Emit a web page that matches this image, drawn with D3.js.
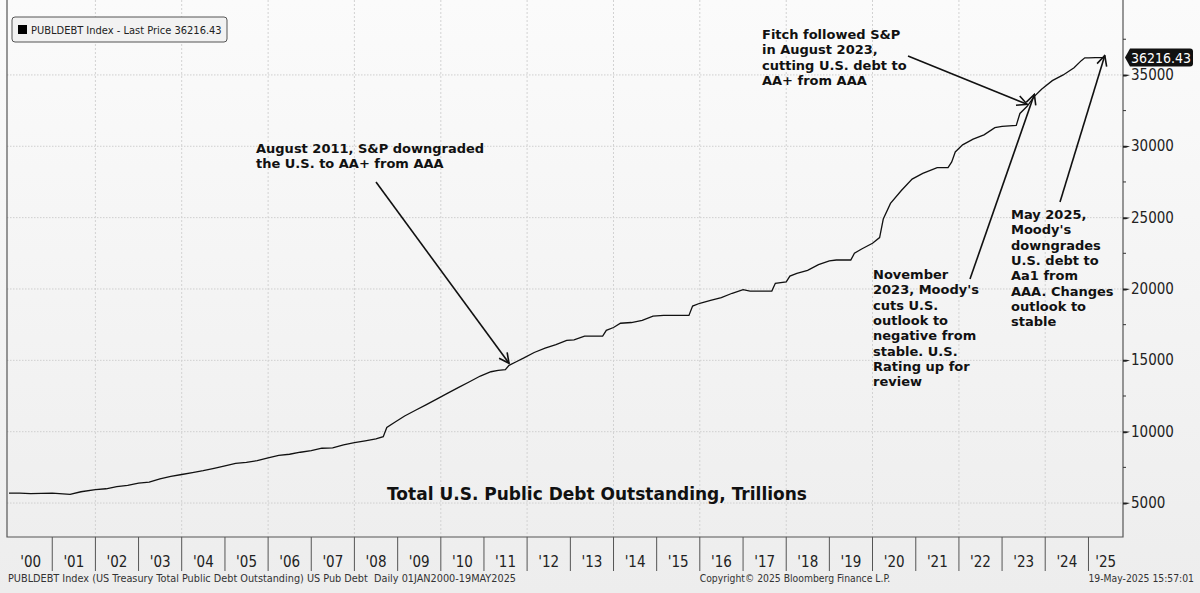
<!DOCTYPE html>
<html>
<head>
<meta charset="utf-8">
<script src="https://d3js.org/d3.v7.min.js"></script>
<style>
  body { margin: 0; background: #f1f1f1; }
</style>
</head>
<body>
<svg id="chart"></svg>
<script>
// US public debt outstanding, millions of USD
const dates = ["2000-01","2000-04","2000-07","2000-10","2001-01","2001-04","2001-06","2001-09",
  "2002-01","2002-04","2002-07","2002-10","2003-01","2003-04","2003-07","2003-10",
  "2004-01","2004-04","2004-07","2004-10","2005-01","2005-04","2005-07","2005-10",
  "2006-01","2006-04","2006-07","2006-10","2007-01","2007-04","2007-07","2007-10",
  "2008-01","2008-04","2008-07","2008-09","2008-10","2008-12","2009-03","2009-06","2009-09","2009-12",
  "2010-03","2010-06","2010-09","2010-12","2011-03","2011-05","2011-07","2011-08","2011-10","2011-12",
  "2012-03","2012-06","2012-09","2012-12","2013-02","2013-05","2013-10","2013-11",
  "2014-01","2014-03","2014-06","2014-09","2014-12","2015-03","2015-10","2015-11",
  "2016-01","2016-04","2016-07","2016-10","2017-01","2017-03","2017-09","2017-10",
  "2018-01","2018-02","2018-04","2018-07","2018-10","2019-01","2019-03","2019-07","2019-08","2019-10",
  "2020-01","2020-03","2020-04","2020-06","2020-09","2020-12","2021-03","2021-07","2021-10","2021-11","2021-12",
  "2022-02","2022-05","2022-08","2022-11","2023-01","2023-05","2023-06","2023-08","2023-10","2023-12",
  "2024-03","2024-06","2024-09","2024-11","2024-12","2025-01","2025-03","2025-05"];
const debt = [5700,5690,5660,5670,5690,5640,5610,5790,
  5940,6000,6150,6240,6400,6460,6700,6870,
  7000,7130,7270,7430,7600,7780,7850,7970,
  8170,8340,8420,8560,8680,8840,8870,9080,
  9230,9360,9500,9650,10300,10630,11100,11500,11900,12300,
  12700,13100,13500,13900,14200,14290,14340,14650,14900,15150,
  15550,15850,16100,16400,16430,16700,16700,17100,
  17300,17600,17650,17800,18100,18150,18150,18800,
  19000,19200,19400,19700,19950,19850,19850,20400,
  20500,20900,21100,21300,21700,21970,22030,22030,22500,22800,
  23200,23600,24900,26000,26900,27700,28100,28500,28500,28900,29600,
  30100,30500,30800,31300,31400,31460,32300,32800,33500,34000,
  34600,35000,35500,36000,36200,36200,36216,36216.43];
const lastPrice = "36216.43";
const yTicks = [5000,10000,15000,20000,25000,30000,35000];
const years = d3.range(2000, 2026);

const annotations = [
  { lines: ["August 2011, S&P downgraded", "the U.S. to AA+ from AAA"], x: 256, y: 153, from: [376, 182], to: "2011-08" },
  { lines: ["Fitch followed S&P", "in August 2023,", "cutting U.S. debt to", "AA+ from AAA"], x: 762, y: 39, from: [908, 56], to: "2023-08" },
  { lines: ["November", "2023, Moody's", "cuts U.S.", "outlook to", "negative from", "stable. U.S.", "Rating up for", "review"], x: 873, y: 279, from: [970, 279], to: "2023-10" },
  { lines: ["May 2025,", "Moody's", "downgrades", "U.S. debt to", "Aa1 from", "AAA. Changes", "outlook to", "stable"], x: 1011, y: 219, from: [1060, 202], to: "2025-05" }
];

const W = 1200, H = 593;
const pLeft = 7, pRight = 1123, pTop = 0, pBottom = 537;
const COND = "'DejaVu Sans Condensed', 'DejaVu Sans', sans-serif";
const BOLD = "'DejaVu Sans', sans-serif";

const svg = d3.select("#chart").attr("width", W).attr("height", H);

const defs = svg.append("defs");
const bg = defs.append("linearGradient").attr("id", "bg").attr("x1", 0).attr("y1", 0).attr("x2", 0).attr("y2", 1);
bg.append("stop").attr("offset", "0%").attr("stop-color", "#fbfbfb");
bg.append("stop").attr("offset", "100%").attr("stop-color", "#ededed");
defs.append("marker").attr("id", "arr").attr("viewBox", "0 0 12 12").attr("refX", 11).attr("refY", 6)
  .attr("markerWidth", 12).attr("markerHeight", 12).attr("markerUnits", "userSpaceOnUse").attr("orient", "auto")
  .append("path").attr("d", "M1,1 L11,6 L1,11").attr("fill", "none").attr("stroke", "#111").attr("stroke-width", 1.6);

svg.append("rect").attr("width", W).attr("height", H).attr("fill", "url(#bg)");

const parse = d3.timeParse("%Y-%m");
const data = dates.map((d, i) => ({ date: parse(d), value: debt[i] }));
// last point is 19 May 2025
data[data.length - 1].date = new Date(2025, 4, 19);

const x = d3.scaleTime().domain([new Date(2000, 0, 1), new Date(2025, 9, 20)]).range([9, pRight]);
const y = d3.scaleLinear().domain([2620, 39900]).range([pBottom, pTop + 5]);

// grid
svg.append("g").selectAll("line").data(yTicks).join("line")
  .attr("x1", pLeft).attr("x2", pRight).attr("y1", d => y(d)).attr("y2", d => y(d))
  .attr("stroke", "#cfcfcf").attr("stroke-dasharray", "1.5,1.5");
svg.append("g").selectAll("line").data(years.filter(d => d % 2 === 0 && d > 2000)).join("line")
  .attr("x1", d => x(new Date(d, 0, 1))).attr("x2", d => x(new Date(d, 0, 1)))
  .attr("y1", pTop).attr("y2", pBottom)
  .attr("stroke", "#d2d2d2").attr("stroke-dasharray", "2,2");

// frame
svg.append("path").attr("d", `M${pLeft},${pTop} V${pBottom} H${pRight} V${pTop}`)
  .attr("fill", "none").attr("stroke", "#555").attr("stroke-width", 1.2);

// bottom year bands
const xa = svg.append("g");
xa.selectAll("line").data(years.slice(1)).join("line")
  .attr("x1", d => x(new Date(d, 0, 1))).attr("x2", d => x(new Date(d, 0, 1)))
  .attr("y1", pBottom).attr("y2", 571).attr("stroke", "#555").attr("stroke-width", 1);
xa.selectAll("text").data(years).join("text")
  .attr("x", d => (Math.max(x(new Date(d, 0, 1)), pLeft) + Math.min(x(new Date(d + 1, 0, 1)), pRight)) / 2)
  .attr("y", 567).attr("text-anchor", "middle").style("font-family", COND).style("font-size", "15px").attr("fill", "#222")
  .text(d => "'" + String(d % 100).padStart(2, "0"));

// right axis
const ya = svg.append("g");
ya.selectAll("line.minor").data(d3.range(7500, 39000, 5000)).join("line").attr("class", "minor")
  .attr("x1", pRight).attr("x2", pRight + 3).attr("y1", d => y(d)).attr("y2", d => y(d))
  .attr("stroke", "#333");
ya.selectAll("path.tk").data(yTicks).join("path").attr("class", "tk")
  .attr("d", d => `M${pRight},${y(d) - 0.5} H${pRight + 3} L${pRight + 7},${y(d)} L${pRight + 3},${y(d) + 1.5} H${pRight}Z`)
  .attr("fill", "#222");
ya.selectAll("text").data(yTicks).join("text")
  .attr("x", pRight + 8).attr("y", d => y(d) + 5).style("font-family", COND).style("font-size", "15px").attr("fill", "#222")
  .text(d => d);

// line
svg.append("path").datum(data)
  .attr("d", d3.line().x(d => x(d.date)).y(d => y(d.value)))
  .attr("fill", "none").attr("stroke", "#111").attr("stroke-width", 1.3);

// last price tag
const ly = y(debt[debt.length - 1]);
svg.append("path")
  .attr("d", `M${pRight + 2},${ly} L${pRight + 7},${ly - 9} H${pRight + 67} Q${pRight + 70},${ly - 9} ${pRight + 70},${ly - 6} V${ly + 6} Q${pRight + 70},${ly + 9} ${pRight + 67},${ly + 9} H${pRight + 7}Z`)
  .attr("fill", "#111");
svg.append("text").attr("x", pRight + 8).attr("y", ly + 5).style("font-family", COND).style("font-size", "14px")
  .attr("fill", "#fff").text(lastPrice);

// legend
svg.append("rect").attr("x", 12).attr("y", 17).attr("width", 215).attr("height", 25).attr("rx", 3)
  .attr("fill", "#f2f2f2").attr("stroke", "#555");
svg.append("rect").attr("x", 18).attr("y", 25).attr("width", 9).attr("height", 9).attr("fill", "#000");
svg.append("text").attr("x", 31).attr("y", 34).style("font-family", COND).style("font-size", "11px").attr("fill", "#222")
  .text("PUBLDEBT Index - Last Price " + lastPrice);

// annotations
const dateOf = s => s === "2025-05" ? new Date(2025, 4, 19) : parse(s);
const valOf = s => debt[dates.indexOf(s)];
annotations.forEach(a => {
  const t = svg.append("text").style("font-family", BOLD).style("font-weight", "bold")
    .style("font-size", "13px").attr("fill", "#111");
  a.lines.forEach((l, i) => t.append("tspan").attr("x", a.x).attr("y", a.y + i * 15.3).text(l));
  svg.append("line").attr("x1", a.from[0]).attr("y1", a.from[1])
    .attr("x2", x(dateOf(a.to))).attr("y2", y(valOf(a.to)) - 2)
    .attr("stroke", "#111").attr("stroke-width", 1.6).attr("marker-end", "url(#arr)");
});

// title
svg.append("text").attr("x", 597).attr("y", 500).attr("text-anchor", "middle")
  .style("font-family", BOLD).style("font-weight", "bold").style("font-size", "17px").attr("fill", "#111")
  .text("Total U.S. Public Debt Outstanding, Trillions");

// footer
svg.append("text").attr("x", 8).attr("y", 582).style("font-family", COND).style("font-size", "10.8px").attr("fill", "#333")
  .attr("xml:space", "preserve")
  .text("PUBLDEBT Index (US Treasury Total Public Debt Outstanding) US Pub Debt  Daily 01JAN2000-19MAY2025");
svg.append("text").attr("x", 795).attr("y", 582).attr("text-anchor", "middle").style("font-family", COND).style("font-size", "10.3px").attr("fill", "#333")
  .text("Copyright© 2025 Bloomberg Finance L.P.");
svg.append("text").attr("x", 1194).attr("y", 582).attr("text-anchor", "end").style("font-family", COND).style("font-size", "10.3px").attr("fill", "#333")
  .text("19-May-2025 15:57:01");
</script>
</body>
</html>
